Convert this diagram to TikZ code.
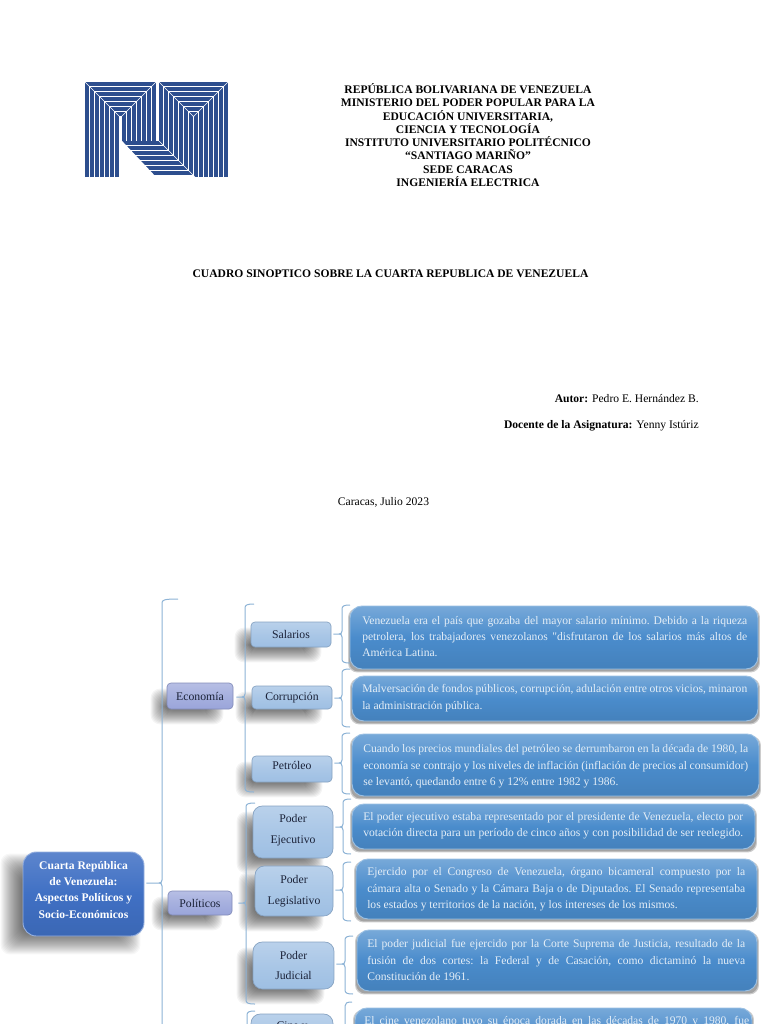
\documentclass[tikz,border=0pt]{standalone}
\usepackage{fontspec}
\setmainfont[Ligatures=TeXOff]{Liberation Serif}
\usetikzlibrary{calc}
\pgfdeclarelayer{bg}
\pgfsetlayers{bg,main}
\definecolor{logoblue}{HTML}{2D4E8E}
\definecolor{bracecol}{HTML}{8DB3D6}
\definecolor{inktext}{HTML}{1B2238}
\definecolor{paletext}{HTML}{E4EEF7}
\definecolor{rootc}{HTML}{4070C4}
\definecolor{lvlA}{HTML}{9AA5DA}
\definecolor{lvlB}{HTML}{9EBFE3}
\definecolor{tb}{HTML}{4A8CCC}
\def\pxu{*0.75pt}
\tikzset{
  titletext/.style={font=\fontsize{8.68}{9.95}\selectfont\bfseries, align=center, text=black, inner sep=0pt},
  plain/.style={font=\fontsize{8.7}{11}\selectfont, text=black, inner sep=0pt},
  brace/.style={draw=bracecol, line width=0.75pt},
  topicbox/.style={rounded corners=3pt, draw=#1!85!black, line width=0.5pt, text=inktext, align=center, inner sep=0pt,
     top color=#1!72!white, bottom color=#1, middle color=#1!88!white, font=\fontsize{8.8}{15.6}\selectfont},
  mainbox/.style={rounded corners=10pt, draw=#1!55!white, line width=0.7pt, text=white, align=center, inner sep=0pt,
     top color=#1!85!white, bottom color=#1!92!black, middle color=#1, font=\fontsize{8.7}{12.2}\selectfont\bfseries},
  textbox/.style={rounded corners=9pt, draw=#1!55!white, line width=0.7pt, inner sep=0pt,
     top color=#1!75!white, bottom color=#1!92!black, middle color=#1},
  boxtext/.style={text=paletext, align=left, anchor=north west, inner sep=0pt, font=\frenchspacing\fontsize{8.7}{12.2}\selectfont},
}
\newcommand{\softshadow}[7]{%
  \begin{pgfonlayer}{bg}
  \foreach \e in {#6} {
    \fill[black, opacity=#7, rounded corners=7pt]
      ($(#1.south west)+(#2-\e,#4+\e)$) rectangle ($(#1.north east)+(#3+\e,#5-\e)$);
  }
  \end{pgfonlayer}}
% parent, x, top, tip y, bottom, tip gap, arm length
\newcommand{\bracefrom}[7]{%
  \coordinate (tipref) at (0,#4);
  \coordinate (tipc) at ($(#1.east |- tipref)+(#6,0)$);
  \draw[brace] (#2+#7,#3) .. controls (#2+2,#3) and (#2,#3+1) .. (#2,#3+4)
     -- (#2,#4-3) .. controls (#2,#4-1) and (#2-1,#4) .. (#2-3,#4) -- (tipc)
     -- (#2-3,#4) .. controls (#2-1,#4) and (#2,#4+1) .. (#2,#4+3)
     -- (#2,#5-4) .. controls (#2,#5-1) and (#2+2,#5) .. (#2+#7,#5);
}
\newcommand{\jline}[2]{\makebox[\dimexpr#1pt*3/4\relax][s]{#2}}
\begin{document}
\begin{tikzpicture}[x=0.75pt,y=-0.75pt]
\path[use as bounding box, clip] (0,0) rectangle (768,1024);
\begin{pgfonlayer}{bg}
\fill[white] (0,0) rectangle (768,1024);
\end{pgfonlayer}

\begin{scope}[line width=3.7*0.75pt, draw=logoblue]
\foreach \k in {0,...,6} {
  \pgfmathsetmacro\a{86.8+5*\k}
  \pgfmathsetmacro\b{83.8+5*\k}
  \pgfmathsetmacro\c{154.2-5*\k}
  \pgfmathsetmacro\d{226.2-5*\k}
  \pgfmathsetmacro\ee{160.8+5*\k}
  \pgfmathsetmacro\f{142.8+5*\k}
  \pgfmathsetmacro\g{120+5*\k}
  \draw (\a,177) -- (\a,\b) -- (\c,\b) -- (\c,141);
  \draw (\d,177) -- (\d,\b) -- (\ee,\b) -- (\ee,\f) -- (\g,\f);
}
\end{scope}
\fill[white] (119.5,140.9) -- (122,140.9) -- (157,178) -- (119.5,178) -- cycle;
\draw[white, line width=0.5pt] (85,82) -- (120,117) (156,82) -- (121,117)
   (159,82) -- (194,117) (228,82) -- (193,117) (159,141) -- (195,177);

\node[titletext] (head) at (468,135) {REPÚBLICA BOLIVARIANA DE VENEZUELA\\MINISTERIO DEL PODER POPULAR PARA LA\\EDUCACIÓN UNIVERSITARIA,\\CIENCIA Y TECNOLOGÍA\\INSTITUTO UNIVERSITARIO POLITÉCNICO\\“SANTIAGO MARIÑO”\\SEDE CARACAS\\INGENIERÍA ELECTRICA};
\node[titletext] (cuadro) at (390.5,273.5) {CUADRO SINOPTICO SOBRE LA CUARTA REPUBLICA DE VENEZUELA};
\node[plain, anchor=east] (autor) at (699,398.5) {\textbf{Autor:} Pedro E. Hernández B.};
\node[plain, anchor=east] (docente) at (699,425.5) {\textbf{Docente de la Asignatura:} Yenny Istúriz};
\node[plain] (lugar) at (383.5,502) {Caracas, Julio 2023};

\node[mainbox=rootc, text depth=6.5pt, minimum width=121\pxu, minimum height=84\pxu] (root) at (83.5,894) {Cuarta República\\de Venezuela:\\Aspectos Políticos y\\Socio-Económicos};
\node[topicbox=lvlA, minimum width=66\pxu, minimum height=26\pxu] (eco) at (200,696) {Economía};
\node[topicbox=lvlA, minimum width=64\pxu, minimum height=24\pxu] (pol) at (200,903) {Políticos};
\node[topicbox=lvlB, minimum width=80\pxu, minimum height=25\pxu] (sal) at (291,634.5) {Salarios};
\node[topicbox=lvlB, minimum width=80\pxu, minimum height=23\pxu] (cor) at (292,697.5) {Corrupción};
\node[topicbox=lvlB, text depth=5pt, minimum width=80\pxu, minimum height=26\pxu] (pet) at (292,769) {Petróleo};
\node[topicbox=lvlB, rounded corners=7pt, text depth=5pt, minimum width=80\pxu, minimum height=52\pxu] (eje) at (293,832) {Poder\\Ejecutivo};
\node[topicbox=lvlB, rounded corners=7pt, minimum width=78\pxu, minimum height=50\pxu] (leg) at (294,891) {Poder\\Legislativo};
\node[topicbox=lvlB, rounded corners=7pt, minimum width=81\pxu, minimum height=47\pxu] (jud) at (293.5,965.5) {Poder\\Judicial};
\node[topicbox=lvlB, rounded corners=7pt, minimum width=82\pxu, minimum height=44\pxu] (cin) at (292,1036) {Cine y\\Teatro};

\softshadow{root}{-10}{-16}{6}{14}{12,11,...,-12}{0.032}
\foreach \n in {eco,pol,sal,cor,pet,eje,leg,jud}{\softshadow{\n}{-8}{-18}{7}{14}{8,7,...,-9}{0.045}}

\node[textbox=tb, minimum width=408\pxu, minimum height=63\pxu] (t1) at (554,637.5) {};
\node[textbox=tb, minimum width=406\pxu, minimum height=45\pxu] (t2) at (555,698.5) {};
\node[textbox=tb, minimum width=407\pxu, minimum height=62\pxu] (t3) at (555.5,765) {};
\node[textbox=tb, minimum width=403\pxu, minimum height=45\pxu] (t4) at (553.5,826.5) {};
\node[textbox=tb, minimum width=401\pxu, minimum height=60\pxu] (t5) at (556.5,889) {};
\node[textbox=tb, minimum width=400\pxu, minimum height=61\pxu] (t6) at (557,960.5) {};
\node[textbox=tb, minimum width=397\pxu, minimum height=60\pxu] (t7) at (553.5,1038) {};
\foreach \n in {t1,t2,t3,t4,t5,t6,t7}{\softshadow{\n}{0}{0}{1.5}{4}{1.5,.5}{0.2}}

\node[boxtext] (x1) at (362,616) {\jline{385}{Venezuela era el país que gozaba del mayor salario mínimo. Debido a la riqueza}\\\jline{385}{petrolera, los trabajadores venezolanos "disfrutaron de los salarios más altos de}\\América Latina.};
\node[boxtext] (x2) at (362,684.5) {\jline{385}{Malversación de fondos públicos, corrupción, adulación entre otros vicios, minaron}\\la administración pública.};
\node[boxtext] (x3) at (363,744.5) {\jline{385}{Cuando los precios mundiales del petróleo se derrumbaron en la década de 1980, la}\\\jline{385}{economía se contrajo y los niveles de inflación (inflación de precios al consumidor)}\\se levantó, quedando entre 6 y 12\% entre 1982 y 1986.};
\node[boxtext, font=\frenchspacing\fontsize{8.7}{11.4}\selectfont] (x4) at (363,812.5) {\jline{380}{El poder ejecutivo estaba representado por el presidente de Venezuela, electo por}\\\jline{380}{votación directa para un período de cinco años y con posibilidad de ser reelegido.}};
\node[boxtext] (x5) at (367,867.5) {\jline{378}{Ejercido por el Congreso de Venezuela, órgano bicameral compuesto por la}\\\jline{378}{cámara alta o Senado y la Cámara Baja o de Diputados. El Senado representaba}\\los estados y territorios de la nación, y los intereses de los mismos.};
\node[boxtext] (x6) at (367,939.5) {\jline{378}{El poder judicial fue ejercido por la Corte Suprema de Justicia, resultado de la}\\\jline{378}{fusión de dos cortes: la Federal y de Casación, como dictaminó la nueva}\\Constitución de 1961.};
\node[boxtext] (x7) at (364,1016) {\jline{385}{El cine venezolano tuvo su época dorada en las décadas de 1970 y 1980, fue}};

\bracefrom{root}{162}{599}{883}{1200}{2}{16}
\bracefrom{eco}{245}{604}{697}{792}{3}{9}
\bracefrom{pol}{246}{803}{903}{1004}{6}{9}
\draw[brace] (255,1011) .. controls (249,1011) and (247,1012) .. (247,1015) -- (247,1030);
\bracefrom{sal}{342}{605}{634}{663}{2}{8}
\bracefrom{cor}{342}{669}{698}{727}{2}{8}
\bracefrom{pet}{342}{733}{763}{794}{2}{8}
\bracefrom{eje}{343}{799}{827}{854}{2}{8}
\bracefrom{leg}{343}{862}{890}{921}{2}{8}
\bracefrom{jud}{345}{936}{964}{994}{2}{8}
\draw[brace] (352,1002) .. controls (347,1002) and (345,1003) .. (345,1006) -- (345,1030);
\end{tikzpicture}
\end{document}
